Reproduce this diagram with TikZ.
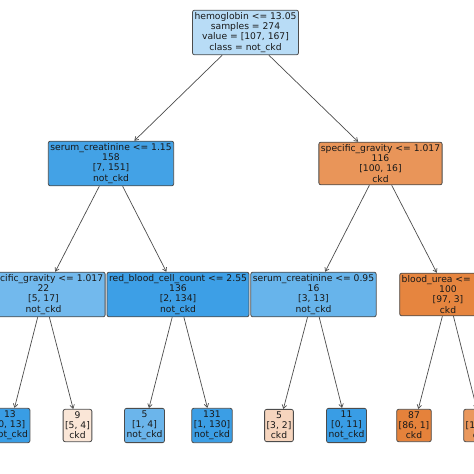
\documentclass[tikz,border=0pt]{standalone}
\usepackage{fontspec}
\setmainfont{DejaVu Sans}
\usepackage{tikz}
\usetikzlibrary{arrows.meta}
\definecolor{ckd}{HTML}{E58139}
\definecolor{notckd}{HTML}{399DE5}
\tikzset{
treenode/.style={draw=black!70, line width=0.8pt, rounded corners=2pt, align=center,
  inner xsep=2pt, inner ysep=2.6pt, font=\fontsize{9.2}{10.1}\selectfont, text=black!90},
treeedge/.style={draw=black!70, line width=0.7pt, -{Straight Barb[length=3.5pt,width=4.5pt]}}
}
\begin{document}
\begin{tikzpicture}[x=1pt,y=-1pt]
\clip (0,0) rectangle (474,474);
\node[treenode, fill=notckd!36] (root) at (245.5,32.5) {hemoglobin <= 13.05\\samples = 274\\value = [107, 167]\\class = not\_ckd};
\node[treenode, fill=notckd!95] (serum) at (111,163.5) {serum\_creatinine <= 1.15\\158\\{[7, 151]}\\not\_ckd};
\node[treenode, fill=ckd!84] (gravity) at (380.5,163.5) {specific\_gravity <= 1.017\\116\\{[100, 16]}\\ckd};
\node[treenode, fill=notckd!71] (gravityb) at (43.5,294.5) {specific\_gravity <= 1.017\\22\\{[5, 17]}\\not\_ckd};
\node[treenode, fill=notckd!98] (rbc) at (178,294.5) {red\_blood\_cell\_count <= 2.55\\136\\{[2, 134]}\\not\_ckd};
\node[treenode, fill=notckd!77] (serumb) at (313.5,294.5) {serum\_creatinine <= 0.95\\16\\{[3, 13]}\\not\_ckd};
\node[treenode, fill=ckd!97] (urea) at (448,294.5) {blood\_urea <= \phantom{40.5}\\100\\{[97, 3]}\\ckd};
\node[treenode, fill=notckd] (leafa) at (10,425.5) {13\\{[0, 13]}\\not\_ckd};
\node[treenode, fill=ckd!20] (leafb) at (77.5,425.5) {9\\{[5, 4]}\\ckd};
\node[treenode, fill=notckd!75] (leafc) at (144.5,425.5) {5\\{[1, 4]}\\not\_ckd};
\node[treenode, fill=notckd!99] (leafd) at (212,425.5) {131\\{[1, 130]}\\not\_ckd};
\node[treenode, fill=ckd!33] (leafe) at (279,425.5) {5\\{[3, 2]}\\ckd};
\node[treenode, fill=notckd] (leaff) at (346.5,425.5) {11\\{[0, 11]}\\not\_ckd};
\node[treenode, fill=ckd!99] (leafg) at (414,425.5) {87\\{[86, 1]}\\ckd};
\node[treenode, fill=ckd!82] (leafh) at (481,425.5) {13\\{[11, 2]}\\ckd};
\draw[treeedge] (root) -- (serum);
\draw[treeedge] (root) -- (gravity);
\draw[treeedge] (serum) -- (gravityb);
\draw[treeedge] (serum) -- (rbc);
\draw[treeedge] (gravity) -- (serumb);
\draw[treeedge] (gravity) -- (urea);
\draw[treeedge] (gravityb) -- (leafa);
\draw[treeedge] (gravityb) -- (leafb);
\draw[treeedge] (rbc) -- (leafc);
\draw[treeedge] (rbc) -- (leafd);
\draw[treeedge] (serumb) -- (leafe);
\draw[treeedge] (serumb) -- (leaff);
\draw[treeedge] (urea) -- (leafg);
\draw[treeedge] (urea) -- (leafh);
\end{tikzpicture}
\end{document}
